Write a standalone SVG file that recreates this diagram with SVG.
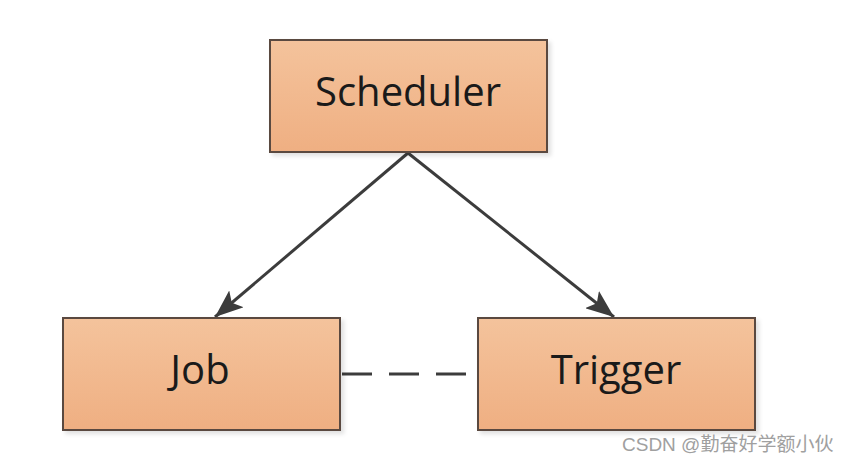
<svg xmlns="http://www.w3.org/2000/svg" width="850" height="463" viewBox="0 0 850 463">
<style>
.box{fill:url(#g);stroke:#5a4a40;stroke-width:2}
.lbl{font-family:"Open Sans","Noto Sans",sans-serif;font-size:40px;fill:#1a1a1a;text-anchor:middle}
.conn{stroke:#3c3c3c;stroke-width:3;fill:none}
.wm{font-family:"Liberation Sans","Noto Sans CJK SC",sans-serif;font-size:19px;fill:#a0a0a0}
</style>
<defs>
<linearGradient id="g" x1="0" y1="0" x2="0" y2="1">
<stop offset="0" stop-color="#f4c39c"/>
<stop offset="1" stop-color="#efaf82"/>
</linearGradient>
<filter id="sh" x="-5%" y="-5%" width="115%" height="120%">
<feDropShadow dx="3" dy="3" stdDeviation="2" flood-color="#000" flood-opacity="0.12"/>
</filter>
<marker id="arr" viewBox="0 0 28 22" refX="28" refY="11" markerWidth="28" markerHeight="22" markerUnits="userSpaceOnUse" orient="auto">
<path d="M0,0 L28,11 L0,22 L6,11 z" fill="#3c3c3c"/>
</marker>
</defs>
<rect width="850" height="463" fill="#ffffff"/>
<g id="connectors">
<line class="conn" x1="408" y1="153" x2="215" y2="317" marker-end="url(#arr)"/>
<line class="conn" x1="408" y1="153" x2="614" y2="317" marker-end="url(#arr)"/>
<line class="conn" x1="342" y1="374" x2="468" y2="374" stroke-dasharray="30,17" stroke="#555"/>
</g>
<g id="scheduler">
<rect class="box" x="270" y="40" width="277" height="112" filter="url(#sh)"/>
<text class="lbl" x="408" y="106">Scheduler</text>
</g>
<g id="job">
<rect class="box" x="63" y="318" width="277" height="112" filter="url(#sh)"/>
<text class="lbl" x="200" y="384">Job</text>
</g>
<g id="trigger">
<rect class="box" x="478" y="318" width="277" height="112" filter="url(#sh)"/>
<text class="lbl" x="616" y="384">Trigger</text>
</g>
<text class="wm" x="622" y="451">CSDN @勤奋好学额小伙</text>
</svg>
